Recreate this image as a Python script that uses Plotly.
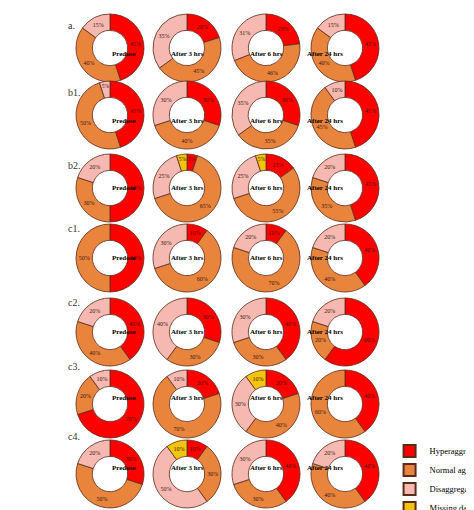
import plotly.graph_objects as go

categories = ["Hyperaggregation", "Normal aggregation", "Disaggregation", "Missing data"]
colors = ["#ff0000", "#e8843c", "#f5b9b2", "#f2c40c"]
times = ["Predose", "After 3 hrs", "After 6 hrs", "After 24 hrs"]
rows = ["a.", "b1.", "b2.", "c1.", "c2.", "c3.", "c4."]

# values per row, per time: [hyper, normal, disagg, missing]
a_vals = [[45, 40, 15, 0], [20, 45, 35, 0], [23, 46, 31, 0], [45, 40, 15, 0]]
b1_vals = [[45, 50, 5, 0], [30, 40, 30, 0], [30, 35, 35, 0], [45, 45, 10, 0]]
b2_vals = [[50, 30, 20, 0], [5, 65, 25, 5], [15, 55, 25, 5], [45, 35, 20, 0]]
c1_vals = [[50, 50, 0, 0], [10, 60, 30, 0], [10, 70, 20, 0], [40, 40, 20, 0]]
c2_vals = [[40, 40, 20, 0], [30, 30, 40, 0], [40, 30, 30, 0], [60, 20, 20, 0]]
c3_vals = [[70, 20, 10, 0], [20, 70, 10, 0], [20, 40, 30, 10], [40, 60, 0, 0]]
c4_vals = [[30, 50, 20, 0], [10, 30, 50, 10], [40, 30, 30, 0], [40, 40, 20, 0]]
all_vals = [a_vals, b1_vals, b2_vals, c1_vals, c2_vals, c3_vals, c4_vals]

W, H = 474, 510
col_x = [102, 179, 258, 337]
row_y = [40, 107, 180, 250, 324, 396, 466]
R = 34

fig = go.Figure()
for r, vals in enumerate(all_vals):
    for c, v in enumerate(vals):
        idx = [i for i in range(4) if v[i] > 0]
        cx, cy = col_x[c], row_y[r]
        fig.add_trace(go.Pie(
            labels=[categories[i] for i in idx],
            values=[v[i] for i in idx],
            marker=dict(colors=[colors[i] for i in idx],
                        line=dict(color="#5a2a1a", width=0.8)),
            hole=0.52, sort=False, direction="clockwise", rotation=0,
            texttemplate="%{value}%", textposition="inside",
            insidetextorientation="horizontal",
            textfont=dict(size=6, color="#3a1a10", family="Liberation Serif"),
            domain=dict(x=[(cx - R) / W, (cx + R) / W],
                        y=[1 - (cy + R) / H, 1 - (cy - R) / H]),
            hoverinfo="label+percent",
        ))
        fig.add_annotation(x=cx / W, y=1 - cy / H, xref="paper", yref="paper",
                           text="<b>" + times[c] + "</b>", showarrow=False,
                           font=dict(size=7, family="Liberation Serif", color="black"))
    fig.add_annotation(x=58 / W, y=1 - (row_y[r] - 30) / H, xref="paper", yref="paper",
                       text=rows[r], showarrow=False, xanchor="left",
                       font=dict(size=10, family="Liberation Serif", color="#333"))

fig.update_layout(
    width=W, height=H, margin=dict(l=0, r=0, t=0, b=0, autoexpand=False),
    paper_bgcolor="white", plot_bgcolor="white",
    legend=dict(x=0.805, y=0.16, yanchor="top", traceorder="normal",
                font=dict(size=8.5, family="Liberation Serif", color="black"),
                itemsizing="constant", tracegroupgap=2, itemwidth=30),
)
fig.write_html("out.html")
